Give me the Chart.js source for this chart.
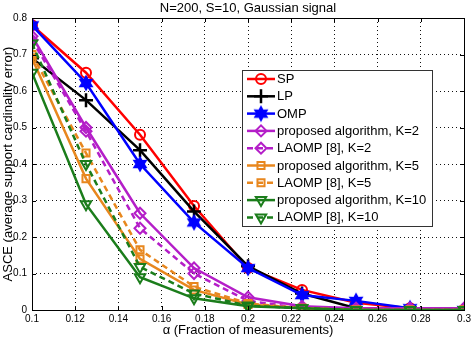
<!DOCTYPE html>
<html>
<head>
<meta charset="utf-8">
<script src="https://cdn.jsdelivr.net/npm/chart.js@4.4.1/dist/chart.umd.min.js"></script>
<style>
  html, body { margin: 0; padding: 0; background: #fff; }
  #wrap { width: 474px; height: 338px; }
</style>
</head>
<body>
<div id="wrap"><canvas id="ascePlot" width="474" height="338"></canvas></div>
<script>
// fraction of measurements (alpha)
const alphaValues = [0.1, 0.125, 0.15, 0.175, 0.2, 0.225, 0.25, 0.275, 0.3];

// ASCE per algorithm
const spErr       = [0.78, 0.65, 0.48, 0.285, 0.115, 0.055, 0.02, 0.005, 0.0];
const lpErr       = [0.69, 0.575, 0.438, 0.27, 0.12, 0.045, 0.005, 0.0, 0.0];
const ompErr      = [0.78, 0.622, 0.40, 0.24, 0.115, 0.041, 0.025, 0.005, 0.0];
const propK2Err   = [0.75, 0.50, 0.265, 0.115, 0.035, 0.01, 0.005, 0.005, 0.005];
const laompK2Err  = [0.74, 0.49, 0.224, 0.10, 0.025, 0.005, 0.0, 0.0, 0.0];
const propK5Err   = [0.69, 0.36, 0.14, 0.055, 0.015, 0.005, 0.0, 0.0, 0.0];
const laompK5Err  = [0.70, 0.43, 0.165, 0.064, 0.018, 0.005, 0.0, 0.0, 0.0];
const propK10Err  = [0.65, 0.29, 0.09, 0.032, 0.01, 0.005, 0.0, 0.0, 0.0];
const laompK10Err = [0.73, 0.40, 0.118, 0.045, 0.012, 0.005, 0.0, 0.0, 0.0];

const xTicks = [0.1, 0.12, 0.14, 0.16, 0.18, 0.2, 0.22, 0.24, 0.26, 0.28, 0.3];
const yTicks = [0, 0.1, 0.2, 0.3, 0.4, 0.5, 0.6, 0.7, 0.8];

const FONT = '"Liberation Sans", Arial, Helvetica, sans-serif';
const PURPLE = '#b41ec8';
const ORANGE = '#e8871e';
const GREEN = '#1b7d1b';

// filled six-point star marker for OMP
function makeStar(color, r) {
  const c = document.createElement('canvas');
  const s = Math.ceil(r * 2 + 4);
  c.width = s; c.height = s;
  const g = c.getContext('2d');
  g.fillStyle = color;
  g.strokeStyle = color;
  g.lineWidth = 1.5;
  g.beginPath();
  for (let i = 0; i < 12; i++) {
    const a = -Math.PI / 2 + i * Math.PI / 6;
    const rr = i % 2 === 0 ? r : r * 0.55;
    const x = s / 2 + rr * Math.cos(a), y = s / 2 + rr * Math.sin(a);
    i === 0 ? g.moveTo(x, y) : g.lineTo(x, y);
  }
  g.closePath();
  g.fill();
  g.stroke();
  return c;
}
const starImg = makeStar('#0000ff', 7);

function series(label, data, color, style, dashed, extra) {
  return Object.assign({
    label,
    data: alphaValues.map((a, i) => ({ x: a, y: data[i] })),
    borderColor: color,
    backgroundColor: 'rgba(0,0,0,0)',
    borderWidth: 2.5,
    borderDash: dashed ? [6, 4] : [],
    pointStyle: style,
    pointRadius: 5.5,
    pointBorderWidth: 2,
    pointBorderColor: color,
    pointBackgroundColor: 'rgba(0,0,0,0)',
    tension: 0,
    fill: false
  }, extra || {});
}

const datasets = [
  series('SP', spErr, '#ff0000', 'circle', false, { pointRadius: 5 }),
  series('LP', lpErr, '#000000', 'cross', false, { pointRadius: 7, pointBorderWidth: 2.5 }),
  series('OMP', ompErr, '#0000ff', starImg, false),
  series('proposed algorithm, K=2', propK2Err, PURPLE, 'rectRot', false),
  series('LAOMP [8], K=2', laompK2Err, PURPLE, 'rectRot', true),
  series('proposed algorithm, K=5', propK5Err, ORANGE, 'rect', false, { pointRadius: 5 }),
  series('LAOMP [8], K=5', laompK5Err, ORANGE, 'rect', true, { pointRadius: 5 }),
  series('proposed algorithm, K=10', propK10Err, GREEN, 'triangle', false, { rotation: 180, pointRadius: 6 }),
  series('LAOMP [8], K=10', laompK10Err, GREEN, 'triangle', true, { rotation: 180, pointRadius: 6 })
];
// later curves sit on top, like the plotting order
datasets.forEach((d, i) => { d.order = -i; });

// title, axis labels, box and legend drawn on top of the plot
const decorations = {
  id: 'decorations',
  afterDraw(chart) {
    const ctx = chart.ctx;
    const a = chart.chartArea;
    ctx.save();

    // axes box
    ctx.strokeStyle = '#000';
    ctx.lineWidth = 1;
    ctx.setLineDash([]);
    ctx.strokeRect(Math.round(a.left) + 0.5, Math.round(a.top) + 0.5,
      Math.round(a.right - a.left), Math.round(a.bottom - a.top));

    // small inward ticks
    const xs = chart.scales.x, ys = chart.scales.y;
    ctx.beginPath();
    xTicks.forEach(v => {
      const px = Math.round(xs.getPixelForValue(v)) + 0.5;
      ctx.moveTo(px, a.bottom); ctx.lineTo(px, a.bottom - 4);
      ctx.moveTo(px, a.top); ctx.lineTo(px, a.top + 4);
    });
    yTicks.forEach(v => {
      const py = Math.round(ys.getPixelForValue(v)) + 0.5;
      ctx.moveTo(a.left, py); ctx.lineTo(a.left + 4, py);
      ctx.moveTo(a.right, py); ctx.lineTo(a.right - 4, py);
    });
    ctx.stroke();

    ctx.fillStyle = '#000';
    ctx.font = '13px ' + FONT;
    ctx.textAlign = 'center';
    ctx.textBaseline = 'middle';
    ctx.fillText('N=200, S=10, Gaussian signal', (a.left + a.right) / 2, 8);
    ctx.fillText('\u03b1 (Fraction of measurements)', (a.left + a.right) / 2, 330);

    ctx.save();
    ctx.translate(8, (a.top + a.bottom) / 2);
    ctx.rotate(-Math.PI / 2);
    ctx.fillText('ASCE (average support cardinality error)', 0, 0);
    ctx.restore();

    // legend box
    const lx = 242, ly = 70, lw = 190, lh = 156;
    ctx.fillStyle = '#fff';
    ctx.fillRect(lx, ly, lw, lh);
    ctx.strokeStyle = '#333';
    ctx.lineWidth = 1;
    ctx.strokeRect(lx + 0.5, ly + 0.5, lw, lh);

    chart.data.datasets.forEach((d, i) => {
      const y = 79 + i * 17.3;
      ctx.strokeStyle = d.borderColor;
      ctx.lineWidth = 2.5;
      ctx.setLineDash(d.borderDash);
      ctx.beginPath();
      ctx.moveTo(247, y); ctx.lineTo(275, y);
      ctx.stroke();
      ctx.setLineDash([]);
      ctx.strokeStyle = d.borderColor;
      ctx.fillStyle = 'rgba(0,0,0,0)';
      ctx.lineWidth = d.pointBorderWidth;
      Chart.helpers.drawPoint(ctx, {
        pointStyle: d.pointStyle,
        rotation: d.rotation || 0,
        radius: d.pointRadius,
        borderWidth: d.pointBorderWidth
      }, 261, y);
      ctx.fillStyle = '#000';
      ctx.font = '13px ' + FONT;
      ctx.textAlign = 'left';
      ctx.fillText(d.label, 277, y + 0.5);
    });
    ctx.restore();
  }
};

new Chart(document.getElementById('ascePlot'), {
  type: 'line',
  data: { datasets },
  options: {
    responsive: false,
    animation: false,
    devicePixelRatio: 1,
    layout: { padding: { top: 18, right: 7, left: 0, bottom: 0 } },
    plugins: {
      legend: { display: false },
      title: { display: false },
      tooltip: { enabled: false }
    },
    scales: {
      x: {
        type: 'linear',
        min: 0.1,
        max: 0.3,
        afterBuildTicks: s => { s.ticks = xTicks.map(v => ({ value: v })); },
        afterFit: s => { s.height = 28; },
        ticks: {
          padding: 3,
          color: '#000',
          font: { family: FONT, size: 10 },
          maxRotation: 0,
          callback: v => String(Math.round(v * 100) / 100)
        },
        grid: { color: '#111', lineWidth: 1, drawTicks: false },
        border: { display: false, dash: [1, 3] }
      },
      y: {
        type: 'linear',
        min: 0,
        max: 0.8,
        afterBuildTicks: s => { s.ticks = yTicks.map(v => ({ value: v })); },
        afterFit: s => { s.width = 32; },
        ticks: {
          padding: 5,
          color: '#000',
          font: { family: FONT, size: 10 },
          callback: v => String(Math.round(v * 10) / 10)
        },
        grid: { color: '#111', lineWidth: 1, drawTicks: false },
        border: { display: false, dash: [1, 3] }
      }
    }
  },
  plugins: [decorations]
});
</script>
</body>
</html>
